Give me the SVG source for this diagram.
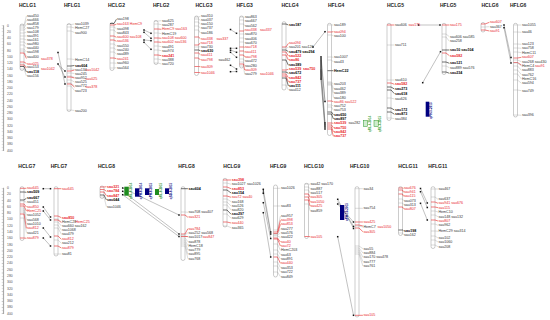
<svg xmlns="http://www.w3.org/2000/svg" xmlns:xlink="http://www.w3.org/1999/xlink" width="550" height="320" viewBox="0 0 550 320">
<style>
.t{font-family:'Liberation Sans',Arial,sans-serif;font-size:5px;font-weight:bold;fill:#222}
.m{font-family:'Liberation Sans',Arial,sans-serif;font-size:3.6px;fill:#333;dominant-baseline:central}
.b{font-weight:bold;fill:#000}
.r{fill:#e8262a}
.ax{font-family:'Liberation Sans',Arial,sans-serif;font-size:3.4px;fill:#555;dominant-baseline:central}
.bar{fill:#fff;stroke:#999;stroke-width:.5}
.f{fill:none;stroke:#999;stroke-width:.35}
.fr{fill:none;stroke:#e8262a;stroke-width:.6}
.fk{fill:none;stroke:#111;stroke-width:.6}
.c{stroke:#666;stroke-width:.4}
.q{font-family:'Liberation Sans',Arial,sans-serif;font-size:3px;font-weight:bold;text-anchor:middle;dominant-baseline:central}
</style>
<defs><rect id="d" x="-0.75" y="-0.75" width="1.5" height="1.5" fill="#111"/></defs>
<rect width="550" height="320" fill="#fff"/>

<g id="axes">
<line x1="3.5" y1="25.3" x2="3.5" y2="151" stroke="#aaa" stroke-width="1.2"/>
<line x1="2.5" y1="25.5" x2="2.5" y2="151" stroke="#999" stroke-width="1.6" stroke-dasharray="0.35 2.775"/>
<line x1="3.5" y1="187.8" x2="3.5" y2="314" stroke="#aaa" stroke-width="1.2"/>
<line x1="2.5" y1="188" x2="2.5" y2="314" stroke="#999" stroke-width="1.6" stroke-dasharray="0.35 2.79"/>
<text class="ax" x="7" y="25.5">0</text><text class="ax" x="7" y="31.75">20</text><text class="ax" x="7" y="38">40</text><text class="ax" x="7" y="44.25">60</text><text class="ax" x="7" y="50.5">80</text><text class="ax" x="7" y="56.75">100</text><text class="ax" x="7" y="63">120</text><text class="ax" x="7" y="69.25">140</text><text class="ax" x="7" y="75.5">160</text><text class="ax" x="7" y="81.75">180</text><text class="ax" x="7" y="88">200</text><text class="ax" x="7" y="94.25">220</text><text class="ax" x="7" y="100.5">240</text><text class="ax" x="7" y="106.75">260</text><text class="ax" x="7" y="113">280</text><text class="ax" x="7" y="119.25">300</text><text class="ax" x="7" y="125.5">320</text><text class="ax" x="7" y="131.75">340</text><text class="ax" x="7" y="138">360</text><text class="ax" x="7" y="144.25">380</text><text class="ax" x="7" y="150.5">400</text>
<text class="ax" x="7" y="188">0</text><text class="ax" x="7" y="194.3">20</text><text class="ax" x="7" y="200.6">40</text><text class="ax" x="7" y="206.9">60</text><text class="ax" x="7" y="213.1">80</text><text class="ax" x="7" y="219.4">100</text><text class="ax" x="7" y="225.7">120</text><text class="ax" x="7" y="232">140</text><text class="ax" x="7" y="238.3">160</text><text class="ax" x="7" y="244.6">180</text><text class="ax" x="7" y="250.9">200</text><text class="ax" x="7" y="257.1">220</text><text class="ax" x="7" y="263.4">240</text><text class="ax" x="7" y="269.7">260</text><text class="ax" x="7" y="276">280</text><text class="ax" x="7" y="282.3">300</text><text class="ax" x="7" y="288.6">320</text><text class="ax" x="7" y="294.9">340</text><text class="ax" x="7" y="301.1">360</text><text class="ax" x="7" y="307.4">380</text><text class="ax" x="7" y="313.7">400</text>
</g>

<g id="connectors">
<line class="c" x1="58" y1="52.5" x2="65" y2="84"/><line class="c" x1="58" y1="63.5" x2="65" y2="77"/><line class="c" x1="58" y1="64.5" x2="65" y2="71"/>
<line class="c" x1="144" y1="30" x2="151" y2="33.3"/><line class="c" x1="144" y1="32.3" x2="151" y2="38.3"/><line class="c" x1="144" y1="40" x2="151" y2="40.7"/><line class="c" x1="144" y1="42.3" x2="151" y2="49.3"/>
<line class="c" x1="230.5" y1="29.5" x2="236.5" y2="33.3"/><line class="c" x1="230.5" y1="48.3" x2="236.5" y2="48.3"/><line class="c" x1="230.5" y1="50" x2="236.5" y2="52.3"/><line class="c" x1="230.5" y1="52.3" x2="236.5" y2="57.3"/><line class="c" x1="230.5" y1="65.3" x2="236.5" y2="69"/><line class="c" x1="230.5" y1="71.7" x2="236.5" y2="71.5"/>
<line class="c" x1="313" y1="47" x2="325" y2="31.7"/><line class="c" x1="321" y1="56" x2="325" y2="101.5"/><line class="c" x1="321" y1="60" x2="325" y2="101.5"/><line class="c" x1="321" y1="69" x2="325" y2="123"/><line class="c" x1="321" y1="70.5" x2="325" y2="125"/><line class="c" x1="321" y1="77.7" x2="325" y2="127"/><line class="c" x1="321" y1="80" x2="325" y2="129"/>
<line x1="321" y1="56" x2="321" y2="80" stroke="#111" stroke-width="1.2"/>
<line class="c" x1="418.5" y1="25" x2="440" y2="25"/><line class="c" x1="422.7" y1="82.7" x2="440.5" y2="51.7"/>
<line class="c" x1="504" y1="25" x2="511" y2="57.5"/><line class="c" x1="504" y1="27.7" x2="511" y2="63"/>
<line class="c" x1="43.3" y1="188.7" x2="50.5" y2="188.7"/><line class="c" x1="43.3" y1="207" x2="50.5" y2="217"/><line class="c" x1="43.3" y1="211" x2="50.5" y2="220"/><line class="c" x1="43.3" y1="228" x2="50.5" y2="237"/><line class="c" x1="43.3" y1="238" x2="50.5" y2="246"/>
<line class="c" x1="122.7" y1="188" x2="179" y2="215"/><line class="c" x1="122.7" y1="191.3" x2="179" y2="234"/><line class="c" x1="122.7" y1="194.7" x2="179" y2="236.5"/>
<line class="c" x1="263.3" y1="189.3" x2="270.7" y2="232"/><line class="c" x1="263.3" y1="193.3" x2="270.7" y2="233.5"/><line class="c" x1="263.3" y1="202.7" x2="270.7" y2="238.5"/><line class="c" x1="263.3" y1="212.7" x2="270.7" y2="257"/>
<line x1="263.3" y1="189.3" x2="263.3" y2="193.3" stroke="#111" stroke-width="0.8"/>
<line class="c" x1="337.7" y1="199.3" x2="353.5" y2="228"/><line class="c" x1="337.7" y1="201.5" x2="353.5" y2="226"/><line class="c" x1="337.7" y1="204" x2="353.5" y2="222"/><line class="c" x1="337.7" y1="236.7" x2="353.5" y2="315.3"/>
<line class="c" x1="420.5" y1="188.5" x2="427.3" y2="203"/><line class="c" x1="420.5" y1="191.7" x2="427.3" y2="207.5"/><line class="c" x1="420.5" y1="203.3" x2="427.3" y2="220"/>
<use href="#d" x="58" y="52.5"/><use href="#d" x="58" y="64"/><use href="#d" x="65" y="84"/><use href="#d" x="65" y="77"/><use href="#d" x="65" y="71"/>
<use href="#d" x="144" y="30"/><use href="#d" x="144" y="32.3"/><use href="#d" x="144" y="40"/><use href="#d" x="144" y="42.3"/><use href="#d" x="151" y="33.3"/><use href="#d" x="151" y="38.3"/><use href="#d" x="151" y="40.7"/><use href="#d" x="151" y="49.3"/>
<use href="#d" x="230.5" y="29.5"/><use href="#d" x="230.5" y="48.3"/><use href="#d" x="230.5" y="50.2"/><use href="#d" x="230.5" y="52.3"/><use href="#d" x="230.5" y="65.3"/><use href="#d" x="230.5" y="71.7"/><use href="#d" x="236.5" y="33.3"/><use href="#d" x="236.5" y="48.3"/><use href="#d" x="236.5" y="52.3"/><use href="#d" x="236.5" y="57.3"/><use href="#d" x="236.5" y="69"/><use href="#d" x="236.5" y="71.5"/>
<use href="#d" x="313" y="47"/><use href="#d" x="325" y="31.7"/><use href="#d" x="325" y="101.5"/><use href="#d" x="325" y="123"/><use href="#d" x="325" y="125"/><use href="#d" x="325" y="127"/><use href="#d" x="325" y="129"/>
<use href="#d" x="418.5" y="25"/><use href="#d" x="440" y="25"/><use href="#d" x="422.7" y="82.7"/><use href="#d" x="440.5" y="51.7"/>
<use href="#d" x="504" y="25"/><use href="#d" x="504" y="27.7"/><use href="#d" x="511" y="57.5"/><use href="#d" x="511" y="63"/>
<use href="#d" x="43.3" y="188.7"/><use href="#d" x="50.5" y="188.7"/><use href="#d" x="43.3" y="207"/><use href="#d" x="43.3" y="211"/><use href="#d" x="43.3" y="228"/><use href="#d" x="43.3" y="238"/><use href="#d" x="50.5" y="217"/><use href="#d" x="50.5" y="220"/><use href="#d" x="50.5" y="237"/><use href="#d" x="50.5" y="246"/>
<use href="#d" x="122.7" y="188"/><use href="#d" x="122.7" y="191.3"/><use href="#d" x="122.7" y="194.7"/><use href="#d" x="179" y="215"/><use href="#d" x="179" y="234"/><use href="#d" x="179" y="236.5"/>
<use href="#d" x="263.3" y="189.3"/><use href="#d" x="263.3" y="193.3"/><use href="#d" x="263.3" y="202.7"/><use href="#d" x="263.3" y="212.7"/><use href="#d" x="270.7" y="232"/><use href="#d" x="270.7" y="234"/><use href="#d" x="270.7" y="238.5"/><use href="#d" x="270.7" y="257"/>
<use href="#d" x="337.7" y="199.3"/><use href="#d" x="337.7" y="204"/><use href="#d" x="337.7" y="236.7"/><use href="#d" x="353.5" y="222"/><use href="#d" x="353.5" y="226.5"/><use href="#d" x="353.5" y="228.5"/><use href="#d" x="353.5" y="315.3"/>
<use href="#d" x="420.5" y="188.5"/><use href="#d" x="420.5" y="191.7"/><use href="#d" x="420.5" y="203.3"/><use href="#d" x="427.3" y="203"/><use href="#d" x="427.3" y="207.5"/><use href="#d" x="427.3" y="220"/>
</g>

<g id="qtl">
<rect x="363.3" y="120.5" width="4.3" height="6" fill="#cfeccf" stroke="#2a9a2a" stroke-width="0.5"/>
<text class="q" fill="#2a9a2a" transform="translate(369.5,124) rotate(-90)">qRL-4-2014</text>
<rect x="374" y="120.5" width="4.3" height="6" fill="#cfeccf" stroke="#2a9a2a" stroke-width="0.5"/>
<text class="q" fill="#2a9a2a" transform="translate(380,124) rotate(-90)">qRL-4-2015</text>
<rect x="425.7" y="101.7" width="3.6" height="15" fill="#000080"/>
<text class="q" fill="#000080" transform="translate(431.3,110.5) rotate(-90)">qPH-5-2015</text>
<rect x="124.3" y="186.7" width="4.5" height="9" fill="#1e8c1e"/>
<text class="q" fill="#1e8c1e" transform="translate(131,191) rotate(-90)">qRL-8-2014</text>
<rect x="135" y="188.3" width="4.3" height="8.4" fill="#000080"/>
<text class="q" fill="#000080" transform="translate(141,191) rotate(-90)">qPH-8-2014</text>
<rect x="145" y="188.3" width="4.3" height="6.7" fill="#000080"/>
<text class="q" fill="#000080" transform="translate(151,191) rotate(-90)">qPH-8-2015</text>
<rect x="155" y="189" width="4" height="6" fill="#1e8c1e"/>
<text class="q" fill="#1e8c1e" transform="translate(161,191) rotate(-90)">qRL-8-2015</text>
<rect x="165" y="188.3" width="4" height="5.7" fill="#000080"/>
<text class="q" fill="#000080" transform="translate(171,191) rotate(-90)">qSD-8-2015</text>
<rect x="340" y="205" width="4.3" height="15" fill="#000080"/>
<text class="q" fill="#000080" transform="translate(346.5,212) rotate(-90)">qPH-10-2015</text>
</g>

<g id="HCLG1">
<text class="t" x="19" y="7.3">HCLG1</text>
<rect class="bar" x="20" y="24" width="4" height="46.5" rx="2"/>
<polyline class="f" points="20,25 24,25 26.4,16"/><polyline class="f" points="20,26 24,26 26.4,20"/><polyline class="f" points="20,28 24,28 26.4,24"/><polyline class="f" points="20,30 24,30 26.4,28"/><polyline class="f" points="20,33 24,33 26.4,32"/><polyline class="f" points="20,36 24,36 26.4,36"/><polyline class="f" points="20,39 24,39 26.4,40"/><polyline class="f" points="20,42 24,42 26.4,44"/><polyline class="f" points="20,45 24,45 26.4,48"/><polyline class="f" points="20,49 24,49 26.4,52"/><polyline class="f" points="20,51 24,51 26.4,56.5"/><polyline class="fr" points="20,53 24,53 26.4,58.5"/><polyline class="fr" points="20,62 24,62 26.4,63.5"/><polyline class="f" points="20,64 24,64 26.4,67"/><polyline class="fr" points="20,65 24,65 26.4,68"/><polyline class="fk" points="20,66.5 24,66.5 26.4,72"/><polyline class="f" points="20,69 24,69 26.4,76"/>
<text class="m" x="27" y="16">sau450</text><text class="m" x="27" y="20">sau666</text><text class="m" x="27" y="24">sau858</text><text class="m" x="27" y="28">sau179</text><text class="m" x="27" y="32">sau108</text><text class="m" x="27" y="36">sau391</text><text class="m" x="27" y="40">sau161</text><text class="m" x="27" y="44">sau980</text><text class="m" x="27" y="48">sau440</text><text class="m" x="27" y="52">sau598</text><text class="m" x="27" y="56.5">sau400</text><text class="m r" x="41" y="59.3">sau378</text><text class="m r" x="27" y="63.5">sau025</text><text class="m" x="27" y="67.3">sau153</text><text class="m r" x="41" y="68.5">sau1042</text><text class="m b" x="27" y="72">sau118</text><text class="m" x="27" y="76">sau156</text>
</g>

<g id="HFLG1">
<text class="t" x="64" y="7.3">HFLG1</text>
<rect class="bar" x="67" y="23.5" width="4" height="88" rx="2"/>
<polyline class="f" points="67,24.5 71,24.5 74.4,24"/><polyline class="f" points="67,27 71,27 74.4,28"/><polyline class="f" points="67,31 71,31 74.4,32.5"/><polyline class="f" points="67,59 71,59 74.4,59.5"/><polyline class="fk" points="67,66 71,66 74.4,65.5"/><polyline class="f" points="67,69 71,69 74.4,69.5"/><polyline class="fr" points="67,71 71,71 74.4,70"/><polyline class="f" points="67,73 71,73 74.4,73.5"/><polyline class="f" points="67,76 71,76 74.4,77.5"/><polyline class="fr" points="67,77 71,77 74.4,78"/><polyline class="f" points="67,80 71,80 74.4,82"/><polyline class="f" points="67,83 71,83 74.4,86"/><polyline class="fr" points="67,84 71,84 74.4,87"/><polyline class="f" points="67,86 71,86 74.4,90.5"/><polyline class="f" points="67,110 71,110 74.4,110.5"/>
<text class="m" x="75" y="24">sau1039</text><text class="m" x="75" y="28">HemC27</text><text class="m" x="75" y="32.5">sau900</text><text class="m" x="75" y="59.5">HemC14</text><text class="m b" x="75" y="65.5">sau604</text><text class="m" x="75" y="69.5">sau134</text><text class="m r" x="85.5" y="70">sau1042</text><text class="m" x="75" y="73.5">sau245</text><text class="m" x="75" y="77.5">sau952</text><text class="m r" x="85.5" y="78.5">sau025</text><text class="m" x="75" y="82">sau525</text><text class="m" x="75" y="86">sau772</text><text class="m r" x="85.5" y="87">sau378</text><text class="m" x="75" y="90.5">sau723</text><text class="m" x="75" y="110.5">sau200</text>
</g>

<g id="HCLG2">
<text class="t" x="108" y="7.3">HCLG2</text>
<rect class="bar" x="110" y="22.5" width="4" height="48" rx="2"/>
<polyline class="fk" points="110,23.5 114,23.5 116.4,19.3"/><polyline class="fr" points="110,25 114,25 116.4,24.3"/><polyline class="f" points="110,27 114,27 116.4,28.7"/><polyline class="f" points="110,30 114,30 116.4,32.7"/><polyline class="fr" points="110,36 114,36 116.4,37.3"/><polyline class="fr" points="110,40 114,40 116.4,41.3"/><polyline class="f" points="110,44 114,44 116.4,46"/><polyline class="f" points="110,48 114,48 116.4,50"/><polyline class="f" points="110,52 114,52 116.4,54"/><polyline class="fr" points="110,58 114,58 116.4,58.7"/><polyline class="f" points="110,63 114,63 116.4,63.3"/><polyline class="f" points="110,68 114,68 116.4,67.7"/>
<text class="m" x="117" y="19.3">sau198</text><text class="m r" x="117" y="24.3">sau163 HemC9</text><text class="m" x="117" y="28.7">sau098</text><text class="m" x="117" y="32.7">sau843</text><text class="m r" x="117" y="37.3">sau600 sau108</text><text class="m r" x="117" y="41.3">sau536</text><text class="m" x="117" y="46">sau550</text><text class="m" x="117" y="50">sau240</text><text class="m" x="117" y="54">sau489</text><text class="m r" x="117" y="58.7">sau241</text><text class="m" x="117" y="63.3">sau960</text><text class="m" x="117" y="67.7">sau564</text>
</g>

<g id="HFLG2">
<text class="t" x="153" y="7.3">HFLG2</text>
<rect class="bar" x="154" y="20.5" width="4" height="44" rx="2"/>
<polyline class="f" points="154,21 158,21 161.4,20.7"/><polyline class="f" points="154,24 158,24 161.4,24.7"/><polyline class="fr" points="154,29 158,29 161.4,29.3"/><polyline class="f" points="154,33 158,33 161.4,33.7"/><polyline class="fr" points="154,38 158,38 161.4,38.3"/><polyline class="fr" points="154,42 158,42 161.4,42.3"/><polyline class="f" points="154,46 158,46 161.4,46.7"/><polyline class="f" points="154,50 158,50 161.4,50.7"/><polyline class="fr" points="154,55 158,55 161.4,55.7"/><polyline class="f" points="154,59 158,59 161.4,60"/><polyline class="f" points="154,63 158,63 161.4,64"/>
<text class="m" x="162" y="20.7">sau625</text><text class="m" x="162" y="24.7">sau287</text><text class="m r" x="162" y="29.3">HemC9 sau163</text><text class="m" x="162" y="33.7">HemC19</text><text class="m r" x="162" y="38.3">sau108 sau600</text><text class="m r" x="162" y="42.3">sau602 sau536</text><text class="m" x="162" y="46.7">sau491</text><text class="m" x="162" y="50.7">sau974</text><text class="m r b" x="162" y="55.7">sau241</text><text class="m" x="162" y="60">sau388</text><text class="m" x="162" y="64">sau720</text>
</g>

<g id="HCLG3">
<text class="t" x="195.5" y="7.3">HCLG3</text>
<rect class="bar" x="194.5" y="16" width="4" height="59.5" rx="2"/>
<polyline class="f" points="194.5,17 198.5,17 200.4,16.3"/><polyline class="f" points="194.5,19 198.5,19 200.4,20.3"/><polyline class="f" points="194.5,22 198.5,22 200.4,24.3"/><polyline class="f" points="194.5,26 198.5,26 200.4,28.3"/><polyline class="f" points="194.5,30 198.5,30 200.4,33"/><polyline class="fr" points="194.5,37 198.5,37 200.4,38.7"/><polyline class="fr" points="194.5,45 198.5,45 200.4,42.7"/><polyline class="f" points="194.5,47 198.5,47 200.4,46.7"/><polyline class="fk" points="194.5,50 198.5,50 200.4,50.7"/><polyline class="fr" points="194.5,53 198.5,53 200.4,54.7"/><polyline class="fr" points="194.5,58 198.5,58 200.4,60"/><polyline class="fr" points="194.5,66.5 198.5,66.5 200.4,66.7"/><polyline class="fr" points="194.5,72.5 198.5,72.5 200.4,72.7"/>
<text class="m" x="201" y="16.3">sau310</text><text class="m" x="201" y="20.3">sau037</text><text class="m" x="201" y="24.3">sau150</text><text class="m" x="201" y="28.3">sau737</text><text class="m" x="201" y="33">sau186</text><text class="m r" x="201" y="38.7">sau338</text><text class="m r" x="216.5" y="38.7">sau337</text><text class="m r" x="201" y="42.7">sau718</text><text class="m" x="201" y="46.7">sau730</text><text class="m b" x="201" y="50.7">sau630</text><text class="m r" x="201" y="54.7">sau411</text><text class="m r" x="201" y="60">sau798</text><text class="m" x="218.5" y="60">sau462</text><text class="m r" x="201" y="66.7">sau309</text><text class="m r" x="201" y="72.7">sau1046</text>
</g>

<g id="HFLG3">
<text class="t" x="236.5" y="7.3">HFLG3</text>
<rect class="bar" x="239.5" y="16" width="4" height="52" rx="2"/>
<polyline class="f" points="239.5,17 243.5,17 244.6,17.3"/><polyline class="f" points="239.5,20 243.5,20 244.6,21.3"/><polyline class="f" points="239.5,24 243.5,24 244.6,25.7"/><polyline class="fr" points="239.5,31 243.5,31 244.6,30"/><polyline class="f" points="239.5,34 243.5,34 244.6,34.3"/><polyline class="f" points="239.5,38 243.5,38 244.6,38.7"/><polyline class="f" points="239.5,42 243.5,42 244.6,42.7"/><polyline class="fr" points="239.5,47 243.5,47 244.6,47.3"/><polyline class="fr" points="239.5,51 243.5,51 244.6,52"/><polyline class="fr" points="239.5,55 243.5,55 244.6,56.7"/><polyline class="f" points="239.5,59 243.5,59 244.6,61.3"/><polyline class="f" points="239.5,62 243.5,62 244.6,65.7"/><polyline class="fr" points="239.5,64 243.5,64 244.6,70"/><polyline class="f" points="239.5,66 243.5,66 244.6,74.3"/>
<text class="m" x="245" y="17.3">sau863</text><text class="m" x="245" y="21.3">sau667</text><text class="m" x="245" y="25.7">sau562</text><text class="m r" x="245" y="30">sau338</text><text class="m r" x="260" y="30">sau337</text><text class="m" x="245" y="34.3">sau870</text><text class="m" x="245" y="38.7">sau406</text><text class="m" x="245" y="42.7">sau670</text><text class="m r" x="245" y="47.3">sau718</text><text class="m r" x="245" y="52">sau411</text><text class="m r" x="245" y="56.7">sau798</text><text class="m" x="245" y="61.3">sau472</text><text class="m" x="245" y="65.7">sau280</text><text class="m r" x="245" y="70">sau309</text><text class="m" x="245" y="74.3">sau279</text><text class="m r" x="260" y="74.3">sau1046</text>
</g>

<g id="HCLG4">
<text class="t" x="281.5" y="7.3">HCLG4</text>
<rect class="bar" x="282" y="21.7" width="4" height="68.3" rx="2"/>
<polyline class="fk" points="282,24 286,24 288.4,25"/><polyline class="fr" points="282,47 286,47 288.4,43.3"/><polyline class="f" points="282,48 286,48 288.4,47.3"/><polyline class="fk" points="282,50 286,50 288.4,51.7"/><polyline class="fr" points="282,52 286,52 288.4,56"/><polyline class="fr" points="282,55 286,55 288.4,60"/><polyline class="fk" points="282,60 286,60 288.4,65.3"/><polyline class="fr" points="282,70 286,70 288.4,69.3"/><polyline class="fk" points="282,72 286,72 288.4,73.3"/><polyline class="fr" points="282,74 286,74 288.4,77.7"/><polyline class="fr" points="282,76 286,76 288.4,82"/><polyline class="fk" points="282,78 286,78 288.4,86"/><polyline class="f" points="282,85 286,85 288.4,90"/>
<text class="m b" x="289" y="25">sau187</text><text class="m r" x="289" y="43.3">sau094</text><text class="m" x="289" y="47.3">sau201 sau126</text><text class="m b" x="289" y="51.7">sau479 sau294</text><text class="m r b" x="289" y="56">sau522</text><text class="m r b" x="289" y="60">sau86</text><text class="m b" x="289" y="65.3">sau389</text><text class="m r b" x="289" y="69.3">sau539</text><text class="m r b" x="303" y="69.3">sau750</text><text class="m b" x="289" y="73.3">sau672</text><text class="m r b" x="289" y="77.7">sau842</text><text class="m r b" x="289" y="82">sau737</text><text class="m b" x="289" y="86">sau111</text><text class="m" x="289" y="90">sau412</text>
</g>

<g id="HFLG4">
<text class="t" x="328" y="7.3">HFLG4</text>
<rect class="bar" x="327.5" y="23.3" width="4" height="112.2" rx="2"/>
<polyline class="f" points="327.5,25 331.5,25 333.4,25"/><polyline class="fr" points="327.5,32 331.5,32 333.4,31.7"/><polyline class="f" points="327.5,35 331.5,35 333.4,35.7"/><polyline class="f" points="327.5,57 331.5,57 333.4,57.3"/><polyline class="f" points="327.5,60 331.5,60 333.4,62"/><polyline class="fk" points="327.5,70.7 331.5,70.7 333.4,70.7"/><polyline class="f" points="327.5,82 331.5,82 333.4,84.3"/><polyline class="f" points="327.5,83 331.5,83 333.4,88.7"/><polyline class="f" points="327.5,84 331.5,84 333.4,93"/><polyline class="f" points="327.5,85 331.5,85 333.4,97.7"/><polyline class="fr" points="327.5,101 331.5,101 333.4,101.7"/><polyline class="f" points="327.5,105 331.5,105 333.4,106"/><polyline class="f" points="327.5,107 331.5,107 333.4,110.3"/><polyline class="fk" points="327.5,112 331.5,112 333.4,114.7"/><polyline class="fk" points="327.5,114 331.5,114 333.4,119"/><polyline class="fr" points="327.5,123 331.5,123 333.4,123.3"/><polyline class="fr" points="327.5,125 331.5,125 333.4,127.7"/><polyline class="fr" points="327.5,127 331.5,127 333.4,132"/><polyline class="fr" points="327.5,129 331.5,129 333.4,136.3"/>
<text class="m" x="334" y="25">sau189</text><text class="m r" x="334" y="31.7">sau094</text><text class="m" x="334" y="35.7">sau100</text><text class="m" x="334" y="57.3">sau1007</text><text class="m" x="334" y="62">sau43</text><text class="m b" x="334" y="70.7">HemC22</text><text class="m" x="334" y="84.3">sau203</text><text class="m" x="334" y="88.7">sau462</text><text class="m" x="334" y="93">sau389</text><text class="m" x="334" y="97.7">sau180</text><text class="m r" x="334" y="101.7">sau86 sau522</text><text class="m" x="334" y="106">sau752</text><text class="m" x="334" y="110.3">sau753</text><text class="m b" x="334" y="114.7">sau650</text><text class="m b" x="334" y="119">sau897</text><text class="m r b" x="334" y="123.3">sau539</text><text class="m" x="348.5" y="123.3">sau282</text><text class="m r b" x="334" y="127.7">sau750</text><text class="m r b" x="334" y="132">sau842</text><text class="m r b" x="334" y="136.3">sau737</text>
</g>

<g id="HCLG5">
<text class="t" x="387" y="7.3">HCLG5</text>
<rect class="bar" x="387" y="23.3" width="4" height="97.2" rx="2"/>
<polyline class="fr" points="387,25 391,25 394.4,25"/><polyline class="f" points="387,45 391,45 394.4,45"/><polyline class="f" points="387,80 391,80 394.4,80"/><polyline class="fr" points="387,83 391,83 394.4,84.3"/><polyline class="fk" points="387,87 391,87 394.4,89"/><polyline class="fk" points="387,90 391,90 394.4,93.7"/><polyline class="f" points="387,98 391,98 394.4,99"/><polyline class="fk" points="387,108 391,108 394.4,110"/><polyline class="fk" points="387,112 391,112 394.4,114.3"/><polyline class="f" points="387,118 391,118 394.4,118.7"/>
<text class="m" x="395" y="25">sau606</text><text class="m r" x="408.5" y="25">sau175</text><text class="m" x="395" y="45">sau711</text><text class="m" x="395" y="80">sau610</text><text class="m r b" x="395" y="84.3">sau582</text><text class="m b" x="395" y="89">sau273</text><text class="m b" x="395" y="93.7">sau618</text><text class="m" x="395" y="99">sau626</text><text class="m b" x="395" y="110">sau172</text><text class="m b" x="395" y="114.3">sau873</text><text class="m" x="395" y="118.7">sau384</text>
</g>

<g id="HFLG5">
<text class="t" x="440" y="7.3">HFLG5</text>
<rect class="bar" x="442" y="23.3" width="4" height="51.2" rx="2"/>
<polyline class="fr" points="442,25 446,25 449.4,25"/><polyline class="f" points="442,34 446,34 449.4,36.7"/><polyline class="f" points="442,37 446,37 449.4,41.3"/><polyline class="fk" points="442,50 446,50 449.4,50"/><polyline class="fr" points="442,53 446,53 449.4,55.7"/><polyline class="fk" points="442,62 446,62 449.4,63.3"/><polyline class="f" points="442,66 446,66 449.4,67.7"/><polyline class="fk" points="442,72 446,72 449.4,73.3"/>
<text class="m r" x="450" y="25">sau175</text><text class="m" x="450" y="36.7">sau606 sau585</text><text class="m" x="450" y="41.3">sau258</text><text class="m b" x="450" y="50">sau10 sau104</text><text class="m r b" x="450" y="55.7">sau582</text><text class="m b" x="450" y="63.3">sau121</text><text class="m" x="450" y="67.7">sau889 sau576</text><text class="m b" x="450" y="73.3">sau234</text>
</g>

<g id="HCLG6">
<text class="t" x="481.5" y="7.3">HCLG6</text>
<rect class="bar" x="481" y="22.5" width="4" height="9.5" rx="2"/>
<polyline class="fr" points="481,24 485,24 489.4,22.3"/><polyline class="f" points="481,27 485,27 489.4,26.7"/><polyline class="fr" points="481,30 485,30 489.4,31"/>
<text class="m r" x="490" y="22.3">sau607</text><text class="m" x="490" y="26.7">sau367</text><text class="m r" x="490" y="31">sau91</text>
</g>

<g id="HFLG6">
<text class="t" x="510" y="7.3">HFLG6</text>
<rect class="bar" x="513.5" y="23.3" width="4" height="93.7" rx="2"/>
<polyline class="f" points="513.5,25 517.5,25 521.4,25"/><polyline class="f" points="513.5,32 517.5,32 521.4,32.3"/><polyline class="f" points="513.5,44 517.5,44 521.4,44.3"/><polyline class="f" points="513.5,48 517.5,48 521.4,48.3"/><polyline class="f" points="513.5,52 517.5,52 521.4,52.7"/><polyline class="fr" points="513.5,58 517.5,58 521.4,57.3"/><polyline class="f" points="513.5,60 517.5,60 521.4,61.7"/><polyline class="fr" points="513.5,62.5 517.5,62.5 521.4,65"/><polyline class="f" points="513.5,63 517.5,63 521.4,66"/><polyline class="f" points="513.5,66 517.5,66 521.4,70.3"/><polyline class="f" points="513.5,70 517.5,70 521.4,74.7"/><polyline class="f" points="513.5,74 517.5,74 521.4,79"/><polyline class="f" points="513.5,80 517.5,80 521.4,83.3"/><polyline class="f" points="513.5,90 517.5,90 521.4,90.7"/><polyline class="f" points="513.5,115 517.5,115 521.4,115.3"/>
<text class="m" x="522" y="25">sau1055</text><text class="m" x="522" y="32.3">sau46</text><text class="m" x="522" y="44.3">sau123</text><text class="m" x="522" y="48.3">sau758</text><text class="m" x="522" y="52.7">HemC11</text><text class="m r" x="522" y="57.3">sau607</text><text class="m" x="522" y="61.7">sau268 sau430</text><text class="m" x="522" y="66">HemC4</text><text class="m r" x="535" y="66">sau91</text><text class="m" x="522" y="70.3">sau883</text><text class="m" x="522" y="74.7">sau762</text><text class="m" x="522" y="79">HemC16</text><text class="m" x="522" y="83.3">sau594</text><text class="m" x="522" y="90.7">sau749</text><text class="m" x="522" y="115.3">sau396</text>
</g>

<g id="HCLG7">
<text class="t" x="18.3" y="167.5">HCLG7</text>
<rect class="bar" x="20" y="186.7" width="4" height="53.8" rx="2"/>
<polyline class="fr" points="20,188.3 24,188.3 26.4,188.3"/><polyline class="fk" points="20,192 24,192 26.4,192.3"/><polyline class="fk" points="20,200 24,200 26.4,198.3"/><polyline class="f" points="20,201 24,201 26.4,202.3"/><polyline class="fr" points="20,204 24,204 26.4,207"/><polyline class="fr" points="20,206 24,206 26.4,211"/><polyline class="f" points="20,208 24,208 26.4,215.3"/><polyline class="f" points="20,210 24,210 26.4,219.7"/><polyline class="f" points="20,212 24,212 26.4,223.7"/><polyline class="fr" points="20,214 24,214 26.4,228.3"/><polyline class="f" points="20,218 24,218 26.4,232.7"/><polyline class="fr" points="20,238 24,238 26.4,238.3"/>
<text class="m r" x="27" y="188.3">sau645</text><text class="m b" x="27" y="192.3">sau509</text><text class="m b" x="27" y="198.3">sau667</text><text class="m" x="27" y="202.3">sau451</text><text class="m r" x="27" y="207">sau850</text><text class="m r" x="27" y="211">HemC25</text><text class="m" x="27" y="215.3">sau1052</text><text class="m" x="27" y="219.7">sau568</text><text class="m" x="27" y="223.7">sau1010</text><text class="m r" x="27" y="228.3">sau812</text><text class="m" x="27" y="232.7">sau421</text><text class="m r" x="27" y="238.3">sau879</text>
</g>

<g id="HFLG7">
<text class="t" x="50.7" y="167.5">HFLG7</text>
<rect class="bar" x="54" y="186.7" width="4" height="69.3" rx="2"/>
<polyline class="fr" points="54,188.7 58,188.7 61.4,188.7"/><polyline class="fr" points="54,216 58,216 61.4,217.7"/><polyline class="f" points="54,219 58,219 61.4,222"/><polyline class="fr" points="54,220 58,220 61.4,222.5"/><polyline class="f" points="54,222 58,222 61.4,226"/><polyline class="f" points="54,225 58,225 61.4,230.3"/><polyline class="f" points="54,228 58,228 61.4,234.3"/><polyline class="fr" points="54,236 58,236 61.4,239.3"/><polyline class="f" points="54,240 58,240 61.4,243.3"/><polyline class="fr" points="54,246 58,246 61.4,248"/><polyline class="f" points="54,254 58,254 61.4,254"/>
<text class="m r" x="62" y="188.7">sau645</text><text class="m r b" x="62" y="217.7">sau850</text><text class="m" x="62" y="222">HemC28</text><text class="m r" x="75.5" y="222">HemC25</text><text class="m" x="62" y="226">sau660 sau162</text><text class="m" x="62" y="230.3">sau1068</text><text class="m" x="62" y="234.3">sau479</text><text class="m r" x="62" y="239.3">sau812</text><text class="m" x="62" y="243.3">sau212</text><text class="m r" x="62" y="248">sau879</text><text class="m" x="62" y="254">sau81</text>
</g>

<g id="HCLG8">
<text class="t" x="98" y="167.5">HCLG8</text>
<rect class="bar" x="100" y="186" width="4" height="12.5" rx="2"/>
<polyline class="fr" points="100,187 104,187 106.4,186.7"/><polyline class="fr" points="100,189.5 104,189.5 106.4,191.3"/><polyline class="fr" points="100,192 104,192 106.4,195.7"/><polyline class="fk" points="100,195 104,195 106.4,200"/><polyline class="f" points="100,197 104,197 106.4,206.7"/>
<text class="m r b" x="107" y="186.7">sau321</text><text class="m r b" x="107" y="191.3">sau784</text><text class="m r b" x="107" y="195.7">sau847</text><text class="m b" x="107" y="200">sau044</text><text class="m" x="107" y="206.7">sau1046</text>
</g>

<g id="HFLG8">
<text class="t" x="178.3" y="167.5">HFLG8</text>
<rect class="bar" x="181" y="186.7" width="4" height="73.8" rx="2"/>
<polyline class="fk" points="181,188.7 185,188.7 187.9,188.7"/><polyline class="f" points="181,212 185,212 187.9,212.3"/><polyline class="fr" points="181,215 185,215 187.9,217.3"/><polyline class="fr" points="181,234 185,234 187.9,228.7"/><polyline class="f" points="181,235 185,235 187.9,232.7"/><polyline class="f" points="181,236 185,236 187.9,237"/><polyline class="fr" points="181,236.5 185,236.5 187.9,236.5"/><polyline class="f" points="181,238 185,238 187.9,241.7"/><polyline class="f" points="181,240 185,240 187.9,245.7"/><polyline class="f" points="181,242 185,242 187.9,250"/><polyline class="f" points="181,244 185,244 187.9,254.3"/><polyline class="f" points="181,246 185,246 187.9,258.7"/>
<text class="m b" x="188.5" y="188.7">sau604</text><text class="m" x="188.5" y="212.3">sau708 sau407</text><text class="m r" x="188.5" y="217.3">sau321</text><text class="m r" x="188.5" y="228.7">sau784</text><text class="m" x="188.5" y="232.7">sau252 sau568</text><text class="m" x="188.5" y="237">sau1017</text><text class="m r" x="202.5" y="237">sau847</text><text class="m" x="188.5" y="241.7">sau878</text><text class="m" x="188.5" y="245.7">HemC18</text><text class="m" x="188.5" y="250">sau779</text><text class="m" x="188.5" y="254.3">sau895</text><text class="m" x="188.5" y="258.7">sau768</text>
</g>

<g id="HCLG9">
<text class="t" x="223.3" y="167.5">HCLG9</text>
<rect class="bar" x="223" y="178.3" width="4" height="48.7" rx="2"/>
<polyline class="fr" points="223,180 227,180 231.1,180"/><polyline class="f" points="223,183 227,183 231.1,184.3"/><polyline class="fr" points="223,187 227,187 231.1,188.7"/><polyline class="fk" points="223,190 227,190 231.1,193"/><polyline class="fr" points="223,196 227,196 231.1,197.3"/><polyline class="f" points="223,199 227,199 231.1,201.7"/><polyline class="f" points="223,202 227,202 231.1,206"/><polyline class="f" points="223,205 227,205 231.1,210"/><polyline class="fk" points="223,210 227,210 231.1,214.3"/><polyline class="f" points="223,214 227,214 231.1,218.3"/><polyline class="fr" points="223,222 227,222 231.1,223"/><polyline class="f" points="223,226 227,226 231.1,227.7"/>
<text class="m r b" x="231.7" y="180">sau398</text><text class="m" x="231.7" y="184.3">sau1027</text><text class="m" x="247" y="184.3">sau1026</text><text class="m r b" x="231.7" y="188.7">sau853</text><text class="m b" x="231.7" y="193">sau154</text><text class="m r" x="231.7" y="197.3">sau72 sau40</text><text class="m" x="231.7" y="201.7">sau168</text><text class="m" x="231.7" y="206">sau526</text><text class="m" x="231.7" y="210">sau820</text><text class="m b" x="231.7" y="214.3">sau297</text><text class="m" x="231.7" y="218.3">sau629</text><text class="m r" x="231.7" y="223">sau440</text><text class="m" x="231.7" y="227.7">sau365</text>
</g>

<g id="HFLG9">
<text class="t" x="270" y="167.5">HFLG9</text>
<rect class="bar" x="273.5" y="185" width="4" height="92" rx="2"/>
<polyline class="f" points="273.5,188.3 277.5,188.3 280.4,188.3"/><polyline class="f" points="273.5,206 277.5,206 280.4,206"/><polyline class="f" points="273.5,230 277.5,230 280.4,216"/><polyline class="fr" points="273.5,232 277.5,232 280.4,220.3"/><polyline class="fr" points="273.5,233.5 277.5,233.5 280.4,224.3"/><polyline class="f" points="273.5,234 277.5,234 280.4,228.7"/><polyline class="f" points="273.5,235 277.5,235 280.4,233"/><polyline class="f" points="273.5,236 277.5,236 280.4,237.3"/><polyline class="fr" points="273.5,238 277.5,238 280.4,242"/><polyline class="fr" points="273.5,239 277.5,239 280.4,246"/><polyline class="f" points="273.5,244 277.5,244 280.4,250.3"/><polyline class="f" points="273.5,250 277.5,250 280.4,254.7"/><polyline class="f" points="273.5,254 277.5,254 280.4,259"/><polyline class="fr" points="273.5,257 277.5,257 280.4,263.3"/><polyline class="f" points="273.5,262 277.5,262 280.4,267.7"/><polyline class="f" points="273.5,266 277.5,266 280.4,272"/><polyline class="f" points="273.5,272 277.5,272 280.4,276.7"/>
<text class="m" x="281" y="188.3">sau1026</text><text class="m" x="281" y="206">sau83</text><text class="m" x="281" y="216">sau957</text><text class="m r" x="281" y="220.3">sau398</text><text class="m r" x="281" y="224.3">sau853</text><text class="m" x="281" y="228.7">sau277</text><text class="m" x="281" y="233">sau576</text><text class="m" x="281" y="237.3">sau422</text><text class="m r" x="281" y="242">sau40</text><text class="m r" x="281" y="246">sau72</text><text class="m" x="281" y="250.3">HemC203</text><text class="m" x="281" y="254.7">sau63</text><text class="m" x="281" y="259">sau891</text><text class="m r" x="281" y="263.3">sau440</text><text class="m" x="281" y="267.7">sau353</text><text class="m" x="281" y="272">sau722</text><text class="m" x="281" y="276.7">sau849</text>
</g>

<g id="HCLG10">
<text class="t" x="304" y="167.5">HCLG10</text>
<rect class="bar" x="304.5" y="183.3" width="4" height="55.2" rx="2"/>
<polyline class="f" points="304.5,184 308.5,184 310,184.3"/><polyline class="f" points="304.5,187 308.5,187 310,188.7"/><polyline class="f" points="304.5,190 308.5,190 310,193"/><polyline class="fr" points="304.5,194 308.5,194 310,197.3"/><polyline class="fr" points="304.5,197 308.5,197 310,201.7"/><polyline class="fr" points="304.5,200 308.5,200 310,206"/><polyline class="f" points="304.5,204 308.5,204 310,210.7"/><polyline class="fr" points="304.5,236.5 308.5,236.5 310,236.7"/>
<text class="m" x="310.5" y="184.3">sau42 sau170</text><text class="m" x="310.5" y="188.7">sau887</text><text class="m" x="310.5" y="193">sau517</text><text class="m r" x="310.5" y="197.3">sau305</text><text class="m r" x="310.5" y="201.7">sau1050</text><text class="m r" x="310.5" y="206">sau425</text><text class="m" x="310.5" y="210.7">sau859</text><text class="m r" x="310.5" y="236.7">sau105</text>
</g>

<g id="HFLG10">
<text class="t" x="350" y="167.5">HFLG10</text>
<rect class="bar" x="355" y="186.7" width="4" height="130.3" rx="2"/>
<polyline class="f" points="355,188.7 359,188.7 362.9,188.7"/><polyline class="f" points="355,208.3 359,208.3 362.9,208.3"/><polyline class="fr" points="355,222 359,222 362.9,222"/><polyline class="fr" points="355,225 359,225 362.9,226"/><polyline class="f" points="355,226 359,226 362.9,227"/><polyline class="fr" points="355,228 359,228 362.9,231.7"/><polyline class="f" points="355,246 359,246 362.9,248.7"/><polyline class="f" points="355,248 359,248 362.9,253"/><polyline class="f" points="355,250 359,250 362.9,257.3"/><polyline class="f" points="355,252 359,252 362.9,261.7"/><polyline class="f" points="355,254 359,254 362.9,266"/><polyline class="fr" points="355,315.3 359,315.3 362.9,315.3"/>
<text class="m" x="363.5" y="188.7">sau34</text><text class="m" x="363.5" y="208.3">sau754</text><text class="m r" x="363.5" y="222">sau425</text><text class="m" x="363.5" y="227">HemC7</text><text class="m r" x="377.5" y="227">sau1050</text><text class="m r" x="363.5" y="231.7">sau305</text><text class="m" x="363.5" y="248.7">sau55</text><text class="m" x="363.5" y="253">sau884</text><text class="m" x="363.5" y="257.3">sau170 sau478</text><text class="m" x="363.5" y="261.7">sau777</text><text class="m" x="363.5" y="266">sau761</text><text class="m r" x="363.5" y="315.3">sau105</text>
</g>

<g id="HCLG11">
<text class="t" x="398.3" y="167.5">HCLG11</text>
<rect class="bar" x="398.5" y="186.7" width="4" height="48.8" rx="2"/>
<polyline class="fr" points="398.5,188 402.5,188 403.5,188.3"/><polyline class="fr" points="398.5,190 402.5,190 403.5,192.3"/><polyline class="fr" points="398.5,194 402.5,194 403.5,196.3"/><polyline class="f" points="398.5,199 402.5,199 403.5,200.7"/><polyline class="f" points="398.5,203 402.5,203 403.5,204.7"/><polyline class="fr" points="398.5,207 402.5,207 403.5,208.7"/><polyline class="fk" points="398.5,230 402.5,230 403.5,230.7"/><polyline class="f" points="398.5,233 402.5,233 403.5,235"/>
<text class="m r" x="404" y="188.3">sau676</text><text class="m r" x="404" y="192.3">sau941</text><text class="m r" x="404" y="196.3">sau115</text><text class="m" x="404" y="200.7">sau073</text><text class="m" x="404" y="204.7">sau313</text><text class="m r" x="404" y="208.7">sau807</text><text class="m b" x="404" y="230.7">sau198</text><text class="m" x="404" y="235">sau162</text>
</g>

<g id="HFLG11">
<text class="t" x="428.3" y="167.5">HFLG11</text>
<rect class="bar" x="431" y="186.7" width="4" height="61.8" rx="2"/>
<polyline class="f" points="431,189 435,189 438,189"/><polyline class="f" points="431,197 435,197 438,199.3"/><polyline class="fr" points="431,202 435,202 438,203.3"/><polyline class="fr" points="431,207 435,207 438,207.7"/><polyline class="f" points="431,211 435,211 438,212"/><polyline class="f" points="431,215 435,215 438,216.7"/><polyline class="fr" points="431,220 435,220 438,221"/><polyline class="f" points="431,224 435,224 438,225.3"/><polyline class="f" points="431,231 435,231 438,231.3"/><polyline class="f" points="431,236 435,236 438,238"/><polyline class="f" points="431,240 435,240 438,242"/><polyline class="f" points="431,245 435,245 438,246.7"/>
<text class="m" x="438.5" y="189">sau467</text><text class="m" x="438.5" y="199.3">sau637</text><text class="m r" x="438.5" y="203.3">sau941 sau676</text><text class="m r" x="438.5" y="207.7">sau115</text><text class="m" x="438.5" y="212">HemC10</text><text class="m" x="438.5" y="216.7">sau148 sau132</text><text class="m r" x="438.5" y="221">sau807</text><text class="m" x="438.5" y="225.3">sau962</text><text class="m" x="438.5" y="231.3">HemC29 sau314</text><text class="m" x="438.5" y="238">sau102</text><text class="m" x="438.5" y="242">sau1060</text><text class="m" x="438.5" y="246.7">sau208</text>
</g>
</svg>
